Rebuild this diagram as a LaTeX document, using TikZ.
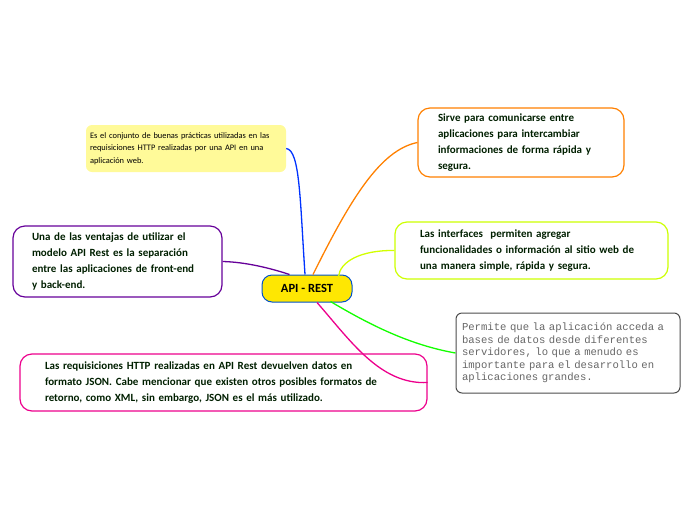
\documentclass[tikz,border=0pt]{standalone}
\usepackage{fontspec}
\setmainfont{Carlito}
\setmonofont{Liberation Mono}
\begin{document}
\begin{tikzpicture}[x=1pt,y=-1pt,
 box/.style={rounded corners=12pt,line width=1.2pt,align=left,font=\bfseries\fontsize{11}{16}\selectfont,text=black!80!green!60!black,inner ysep=0pt},
 conn/.style={line width=1.3pt}]
\useasboundingbox (0,0) rectangle (696,520);
\node[draw=blue!60!cyan!80!black,fill=yellow!90!orange,rounded corners=10pt,line width=1pt,minimum width=90pt,minimum height=27pt,font=\bfseries\fontsize{12.5}{14}\selectfont] (c) at (307,288.5) {API - REST};
\node[fill=yellow!40,rounded corners=6pt,inner xsep=4pt,text width=192pt,minimum height=47pt,align=left,font=\fontsize{8.4}{12.5}\selectfont] (n1) at (186,148.5) {Es el conjunto de buenas prácticas utilizadas en las\\requisiciones HTTP realizadas por una API en una\\aplicación web.};
\node[box,draw=orange,inner xsep=20pt,text width=166pt,minimum height=69pt] (n2) at (521,142.5) {Sirve para comunicarse entre\\aplicaciones para intercambiar\\informaciones de forma rápida y\\segura.};
\node[box,draw=lime!80!yellow,inner xsep=25pt,text width=223pt,minimum height=57pt] (n3) at (531.5,250.5) {Las interfaces\ \ permiten agregar\\funcionalidades o información al sitio web de\\una manera simple, rápida y segura.};
\node[draw=black!70,rounded corners=6pt,line width=1pt,inner xsep=6pt,text width=212pt,minimum height=80pt,align=left,inner ysep=0pt,font=\ttfamily\fontsize{10.6}{12.5}\selectfont,text=black!60] (n4) at (568,353) {Permite que la aplicación acceda a\\bases de datos desde diferentes\\servidores, lo que a menudo es\\importante para el desarrollo en\\aplicaciones grandes.};
\node[box,draw=magenta,inner xsep=25pt,text width=357pt,minimum height=57pt] (n5) at (223.5,382.5) {Las requisiciones HTTP realizadas en API Rest devuelven datos en\\formato JSON. Cabe mencionar que existen otros posibles formatos de\\retorno, como XML, sin embargo, JSON es el más utilizado.};
\node[box,draw=violet!80!blue,inner xsep=19pt,text width=171pt,minimum height=71pt] (n6) at (117.5,261.5) {Una de las ventajas de utilizar el\\modelo API Rest es la separación\\entre las aplicaciones de front-end\\y back-end.};
\draw[conn,blue!80!cyan] (c.north)++(-2,0) .. controls (300,200) and (300,150) .. (n1.east);
\draw[conn,orange] (c.north)++(6,0) .. controls (350,200) and (380,150) .. (n2.west);
\draw[conn,lime!70!yellow] (c.north east)++(-14,2) .. controls (340,262) and (360,250) .. (n3.west);
\draw[conn,green!90!lime] (c.south east)++(-22,-1) .. controls (370,325) and (410,345) .. (n4.west);
\draw[conn,magenta] (c.south)++(10,0) .. controls (350,340) and (380,385) .. (n5.east);
\draw[conn,violet!80!blue] (c.north west)++(28,0) .. controls (270,268) and (245,262) .. (n6.east);
\end{tikzpicture}
\end{document}
